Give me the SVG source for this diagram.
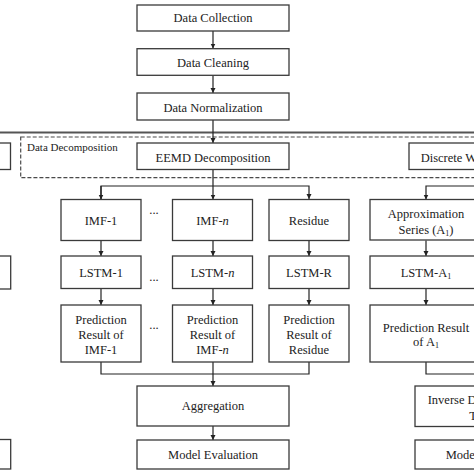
<svg xmlns="http://www.w3.org/2000/svg" width="474" height="474" viewBox="0 0 474 474">
<defs>
<style>
.box{fill:#fff;stroke:#3a3a3a;stroke-width:1.3}
.ln{fill:none;stroke:#222;stroke-width:1.2}
.t{font-family:"Liberation Serif","Times New Roman",serif;font-size:12.5px;fill:#222;text-anchor:middle}
.ts{font-family:"Liberation Serif","Times New Roman",serif;font-size:12.5px;fill:#222}
.sub{font-size:8px}
</style>
<marker id="ah" viewBox="0 0 6 6" markerWidth="5" markerHeight="5.5" refX="6" refY="3" orient="auto" markerUnits="userSpaceOnUse">
<path d="M0,0 L6,3 L0,6 z" fill="#222"/>
</marker>
</defs>
<rect width="474" height="474" fill="#fff"/>

<!-- frame lines -->
<line x1="0" y1="132.5" x2="474" y2="132.5" stroke="#555" stroke-width="2"/>
<rect x="20.7" y="137" width="480" height="40.7" fill="none" stroke="#4a4a4a" stroke-width="1.2" stroke-dasharray="4,2"/>
<text class="ts" x="27" y="151" style="font-size:11px">Data Decomposition</text>

<g id="connectors">
<line class="ln" x1="213" y1="31" x2="213" y2="48.5" marker-end="url(#ah)"/>
<line class="ln" x1="213" y1="75.5" x2="213" y2="93" marker-end="url(#ah)"/>
<line class="ln" x1="213" y1="120" x2="213" y2="143" marker-end="url(#ah)"/>
<line class="ln" x1="213" y1="169.5" x2="213" y2="186"/>
<polyline class="ln" points="101,199 101,186 309,186 309,199" marker-end="url(#ah)"/>
<line class="ln" x1="101" y1="186" x2="101" y2="199.5" marker-end="url(#ah)"/>
<line class="ln" x1="213" y1="186" x2="213" y2="199.5" marker-end="url(#ah)"/>
<polyline class="ln" points="474,186 426,186 426,199.5" marker-end="url(#ah)"/>
<line class="ln" x1="101" y1="240.5" x2="101" y2="256" marker-end="url(#ah)"/>
<line class="ln" x1="213" y1="240.5" x2="213" y2="256" marker-end="url(#ah)"/>
<line class="ln" x1="309" y1="240.5" x2="309" y2="256" marker-end="url(#ah)"/>
<line class="ln" x1="426" y1="240.5" x2="426" y2="256" marker-end="url(#ah)"/>
<line class="ln" x1="101" y1="288.5" x2="101" y2="305" marker-end="url(#ah)"/>
<line class="ln" x1="213" y1="288.5" x2="213" y2="305" marker-end="url(#ah)"/>
<line class="ln" x1="309" y1="288.5" x2="309" y2="305" marker-end="url(#ah)"/>
<line class="ln" x1="426" y1="288.5" x2="426" y2="305" marker-end="url(#ah)"/>
<polyline class="ln" points="101,362 101,374 309,374 309,362"/>
<line class="ln" x1="213" y1="362" x2="213" y2="386" marker-end="url(#ah)"/>
<polyline class="ln" points="426,362 426,374 474,374"/>
<line class="ln" x1="213" y1="426" x2="213" y2="440" marker-end="url(#ah)"/>
</g>

<g id="n-collection"><rect class="box" x="137" y="5" width="152" height="26"/><text class="t" x="213" y="22">Data Collection</text></g>
<g id="n-cleaning"><rect class="box" x="137" y="48.7" width="152" height="26.6"/><text class="t" x="213" y="67">Data Cleaning</text></g>
<g id="n-normalization"><rect class="box" x="137" y="93" width="152" height="27"/><text class="t" x="213" y="111.5">Data Normalization</text></g>

<g id="n-left1"><rect class="box" x="-60" y="143" width="70.5" height="26.5"/></g>
<g id="n-left2"><rect class="box" x="-60" y="256" width="70.7" height="33"/></g>
<g id="n-left3"><rect class="box" x="-60" y="439.5" width="70.7" height="29.5"/></g>

<g id="n-eemd"><rect class="box" x="137" y="143" width="152" height="26.5"/><text class="t" x="213" y="161.5">EEMD Decomposition</text></g>
<g id="n-dwt"><rect class="box" x="409" y="143" width="152" height="26.5"/><text class="ts" x="420.7" y="161.5">Discrete W</text></g>

<g id="n-imf1"><rect class="box" x="61" y="199.5" width="80" height="41"/><text class="t" x="101" y="224.5">IMF-1</text></g>
<g id="n-imfn"><rect class="box" x="172.5" y="199.5" width="80" height="41"/><text class="t" x="212.5" y="224.5">IMF-<tspan font-style="italic">n</tspan></text></g>
<g id="n-residue"><rect class="box" x="269" y="199.5" width="80" height="41"/><text class="t" x="309" y="224.5">Residue</text></g>
<g id="n-approx"><rect class="box" x="370" y="199.5" width="112" height="40.5"/><text class="t" x="426" y="217.5">Approximation</text><text class="t" x="426" y="233.5">Series (A<tspan class="sub" dy="2">1</tspan><tspan dy="-2">)</tspan></text></g>

<g id="n-lstm1"><rect class="box" x="61" y="256" width="80" height="32.5"/><text class="t" x="101" y="276.5">LSTM-1</text></g>
<g id="n-lstmn"><rect class="box" x="172.5" y="256" width="80" height="32.5"/><text class="t" x="212.5" y="276.5">LSTM-<tspan font-style="italic">n</tspan></text></g>
<g id="n-lstmr"><rect class="box" x="269" y="256" width="80" height="32.5"/><text class="t" x="309" y="276.5">LSTM-R</text></g>
<g id="n-lstma"><rect class="box" x="370" y="256" width="112" height="32.5"/><text class="t" x="426" y="276.5">LSTM-A<tspan class="sub" dy="2">1</tspan></text></g>

<g id="n-pred1"><rect class="box" x="61" y="305" width="80" height="57"/><text class="t" x="101" y="323.5">Prediction</text><text class="t" x="101" y="339">Result of</text><text class="t" x="101" y="354">IMF-1</text></g>
<g id="n-predn"><rect class="box" x="172.5" y="305" width="80" height="57"/><text class="t" x="212.5" y="323.5">Prediction</text><text class="t" x="212.5" y="339">Result of</text><text class="t" x="212.5" y="354">IMF-<tspan font-style="italic">n</tspan></text></g>
<g id="n-predr"><rect class="box" x="269" y="305" width="80" height="57"/><text class="t" x="309" y="323.5">Prediction</text><text class="t" x="309" y="339">Result of</text><text class="t" x="309" y="354">Residue</text></g>
<g id="n-preda"><rect class="box" x="370" y="305" width="112" height="57"/><text class="t" x="426" y="331.5">Prediction Result</text><text class="t" x="426" y="346">of A<tspan class="sub" dy="2">1</tspan></text></g>

<g id="dots">
<text class="t" x="154" y="214">...</text>
<text class="t" x="154" y="281">...</text>
<text class="t" x="154" y="329">...</text>
</g>

<g id="n-aggregation"><rect class="box" x="137" y="386" width="152" height="40"/><text class="t" x="213" y="410">Aggregation</text></g>
<g id="n-eval"><rect class="box" x="137" y="440" width="152" height="29"/><text class="t" x="213" y="459">Model Evaluation</text></g>
<g id="n-idwt"><rect class="box" x="415" y="386" width="152" height="40.5"/><text class="ts" x="427.7" y="404">Inverse D</text><text class="ts" x="469.3" y="420">T</text></g>
<g id="n-eval2"><rect class="box" x="415" y="440" width="152" height="29"/><text class="ts" x="445.7" y="458.5">Mode</text></g>
</svg>
